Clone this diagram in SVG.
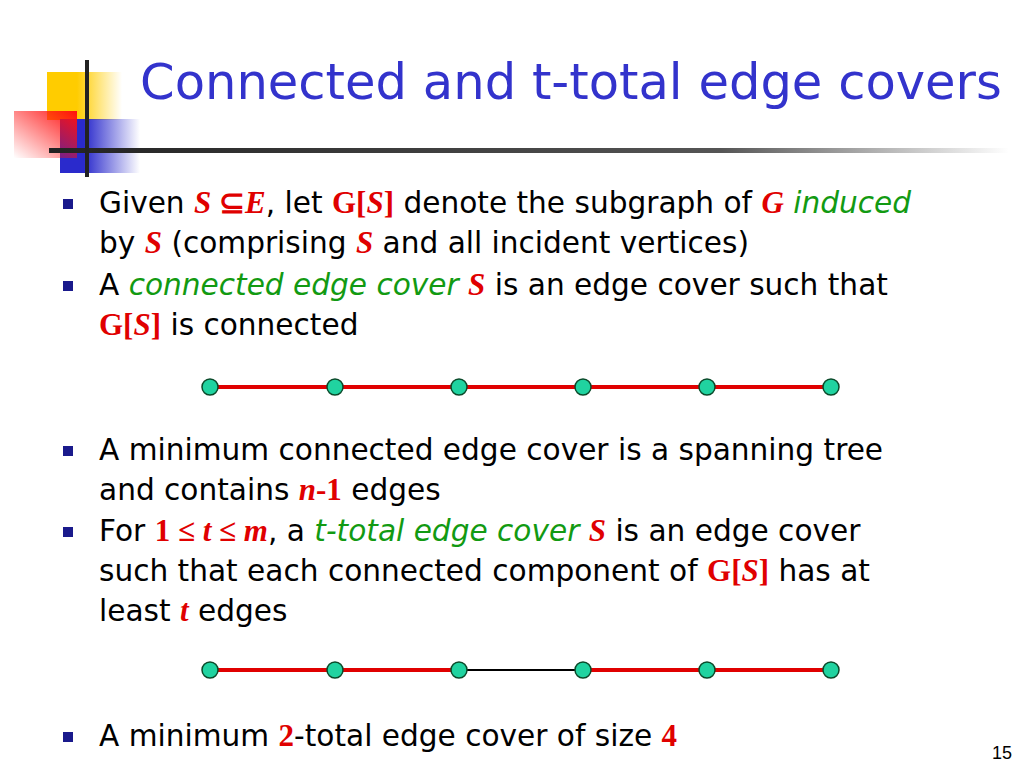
<svg xmlns="http://www.w3.org/2000/svg" width="1024" height="768" viewBox="0 0 1024 768">
<style>
.t{font-family:"DejaVu Sans",Verdana,sans-serif;font-size:29.6px;fill:#000}
.s{font-family:"Liberation Serif","Times New Roman",serif;font-weight:bold;fill:#e00000;font-size:31px}
.g{fill:#129a12;font-style:italic}
.b{fill:#1a1a8c}
.e{stroke:#e00000;stroke-width:4}
.k{stroke:#000;stroke-width:2}
.n{fill:#20d3a0;stroke:#0b4a2a;stroke-width:1.5}
</style>
<defs>
<linearGradient id="gy" x1="0" x2="1"><stop offset="0.4" stop-color="#ffcc00"/><stop offset="1" stop-color="#ffcc00" stop-opacity="0"/></linearGradient>
<linearGradient id="gb" x1="0" x2="1"><stop offset="0.3" stop-color="#2a2acc"/><stop offset="1" stop-color="#2a2acc" stop-opacity="0"/></linearGradient>
<linearGradient id="gr" x1="1" y1="0" x2="0" y2="1"><stop offset="0" stop-color="#ff1010"/><stop offset="1" stop-color="#ff1010" stop-opacity="0"/></linearGradient>
<linearGradient id="gl" x1="0" x2="1"><stop offset="0" stop-color="#222"/><stop offset="0.7" stop-color="#555"/><stop offset="1" stop-color="#555" stop-opacity="0"/></linearGradient>
</defs>
<g id="decor">
<rect x="47" y="72" width="75" height="48" fill="url(#gy)"/>
<rect x="60" y="119" width="80" height="54" fill="url(#gb)"/>
<rect x="14" y="111" width="63" height="47" fill="url(#gr)"/>
<rect x="49" y="148" width="960" height="5" fill="url(#gl)"/>
<rect x="85" y="60" width="4" height="117" fill="#222"/>
</g>
<text x="140" y="99" font-family="DejaVu Sans,Verdana,sans-serif" font-size="49.6" fill="#3333cc">Connected and t-total edge covers</text>
<g class="b"><rect x="63" y="199" width="10" height="10"/><rect x="63" y="281" width="10" height="10"/><rect x="63" y="446" width="10" height="10"/><rect x="63" y="527" width="10" height="10"/><rect x="63" y="732" width="10" height="10"/></g>
<text class="t" x="99" y="213">Given <tspan class="s" font-style="italic">S</tspan><tspan class="s"> ⊆</tspan><tspan class="s" font-style="italic">E</tspan>, let <tspan class="s">G[</tspan><tspan class="s" font-style="italic">S</tspan><tspan class="s">]</tspan> denote the subgraph of <tspan class="s" font-style="italic">G</tspan> <tspan class="g">induced</tspan></text>
<text class="t" x="99" y="253">by <tspan class="s" font-style="italic">S</tspan> (comprising <tspan class="s" font-style="italic">S</tspan> and all incident vertices)</text>
<text class="t" x="99" y="295">A <tspan class="g">connected edge cover </tspan><tspan class="s" font-style="italic">S</tspan> is an edge cover such that</text>
<text class="t" x="99" y="335"><tspan class="s">G[</tspan><tspan class="s" font-style="italic">S</tspan><tspan class="s">]</tspan> is connected</text>
<text class="t" x="99" y="460">A minimum connected edge cover is a spanning tree</text>
<text class="t" x="99" y="500">and contains <tspan class="s" font-style="italic">n</tspan><tspan class="s">-1</tspan> edges</text>
<text class="t" x="99" y="541">For <tspan class="s">1 ≤ </tspan><tspan class="s" font-style="italic">t</tspan><tspan class="s"> ≤ </tspan><tspan class="s" font-style="italic">m</tspan>, a <tspan class="g">t-total edge cover </tspan><tspan class="s" font-style="italic">S</tspan> is an edge cover</text>
<text class="t" x="99" y="581">such that each connected component of <tspan class="s">G[</tspan><tspan class="s" font-style="italic">S</tspan><tspan class="s">]</tspan> has at</text>
<text class="t" x="99" y="621">least <tspan class="s" font-style="italic">t</tspan> edges</text>
<text class="t" x="99" y="746">A minimum <tspan class="s">2</tspan>-total edge cover of size <tspan class="s">4</tspan></text>
<text x="1012" y="759" text-anchor="end" font-family="Liberation Sans,Arial,sans-serif" font-size="18">15</text>
<g id="connectors">
<line class="e" x1="210" y1="387" x2="831" y2="387"/>
<line class="e" x1="210" y1="670" x2="459" y2="670"/>
<line class="k" x1="459" y1="670" x2="583" y2="670"/>
<line class="e" x1="583" y1="670" x2="831" y2="670"/>
</g>
<g id="n1"><circle class="n" cx="210" cy="387" r="8"/></g>
<g id="n2"><circle class="n" cx="335" cy="387" r="8"/></g>
<g id="n3"><circle class="n" cx="459" cy="387" r="8"/></g>
<g id="n4"><circle class="n" cx="583" cy="387" r="8"/></g>
<g id="n5"><circle class="n" cx="707" cy="387" r="8"/></g>
<g id="n6"><circle class="n" cx="831" cy="387" r="8"/></g>
<g id="m1"><circle class="n" cx="210" cy="670" r="8"/></g>
<g id="m2"><circle class="n" cx="335" cy="670" r="8"/></g>
<g id="m3"><circle class="n" cx="459" cy="670" r="8"/></g>
<g id="m4"><circle class="n" cx="583" cy="670" r="8"/></g>
<g id="m5"><circle class="n" cx="707" cy="670" r="8"/></g>
<g id="m6"><circle class="n" cx="831" cy="670" r="8"/></g>
</svg>
